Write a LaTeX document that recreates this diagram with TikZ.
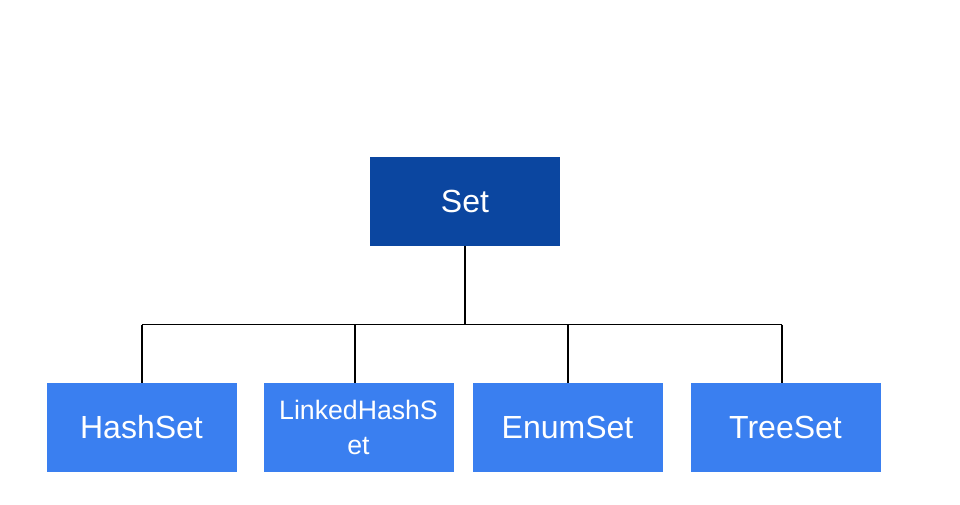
\documentclass[tikz,border=0pt]{standalone}
\usepackage{fontspec}
\setmainfont{Liberation Sans}
\usetikzlibrary{positioning}
\definecolor{rootblue}{HTML}{0B46A0}
\definecolor{leafblue}{HTML}{3A7FF0}
\tikzset{
  setnode/.style={rectangle, minimum width=142.5pt, minimum height=67pt,
    align=center, text=white, font=\fontsize{24}{26}\selectfont, inner sep=0pt},
  rootnode/.style={setnode, fill=rootblue},
  leafnode/.style={setnode, fill=leafblue},
  link/.style={line width=0.8pt, black}
}
\begin{document}
\begin{tikzpicture}[x=0.75pt, y=-0.75pt]
    \useasboundingbox (0,0) rectangle (960,504);

    % Root
    \node[rootnode] (set) at (465,201.5) {Set};

    % Implementations
    \node[leafnode] (hash) at (141.5,427.5) {HashSet};
    \node[leafnode, font=\fontsize{20}{26}\selectfont] (linked) at (358.5,427.5) {LinkedHashS\\et};
    \node[leafnode] (enum) at (567.5,427.5) {EnumSet};
    \node[leafnode] (tree) at (785.5,427.5) {TreeSet};

    \coordinate (bus) at (465,324.5);
    \coordinate (busl) at (142,324.5);
    \coordinate (busr) at (782,324.5);

    \draw[link] (set.south) -- (bus);
    \draw[link] (busl) -- (busr);
    \foreach \n/\x in {hash/142, linked/355, enum/568, tree/782}
      \draw[link] (\x,324.5) -- (\x,383);
\end{tikzpicture}
\end{document}
